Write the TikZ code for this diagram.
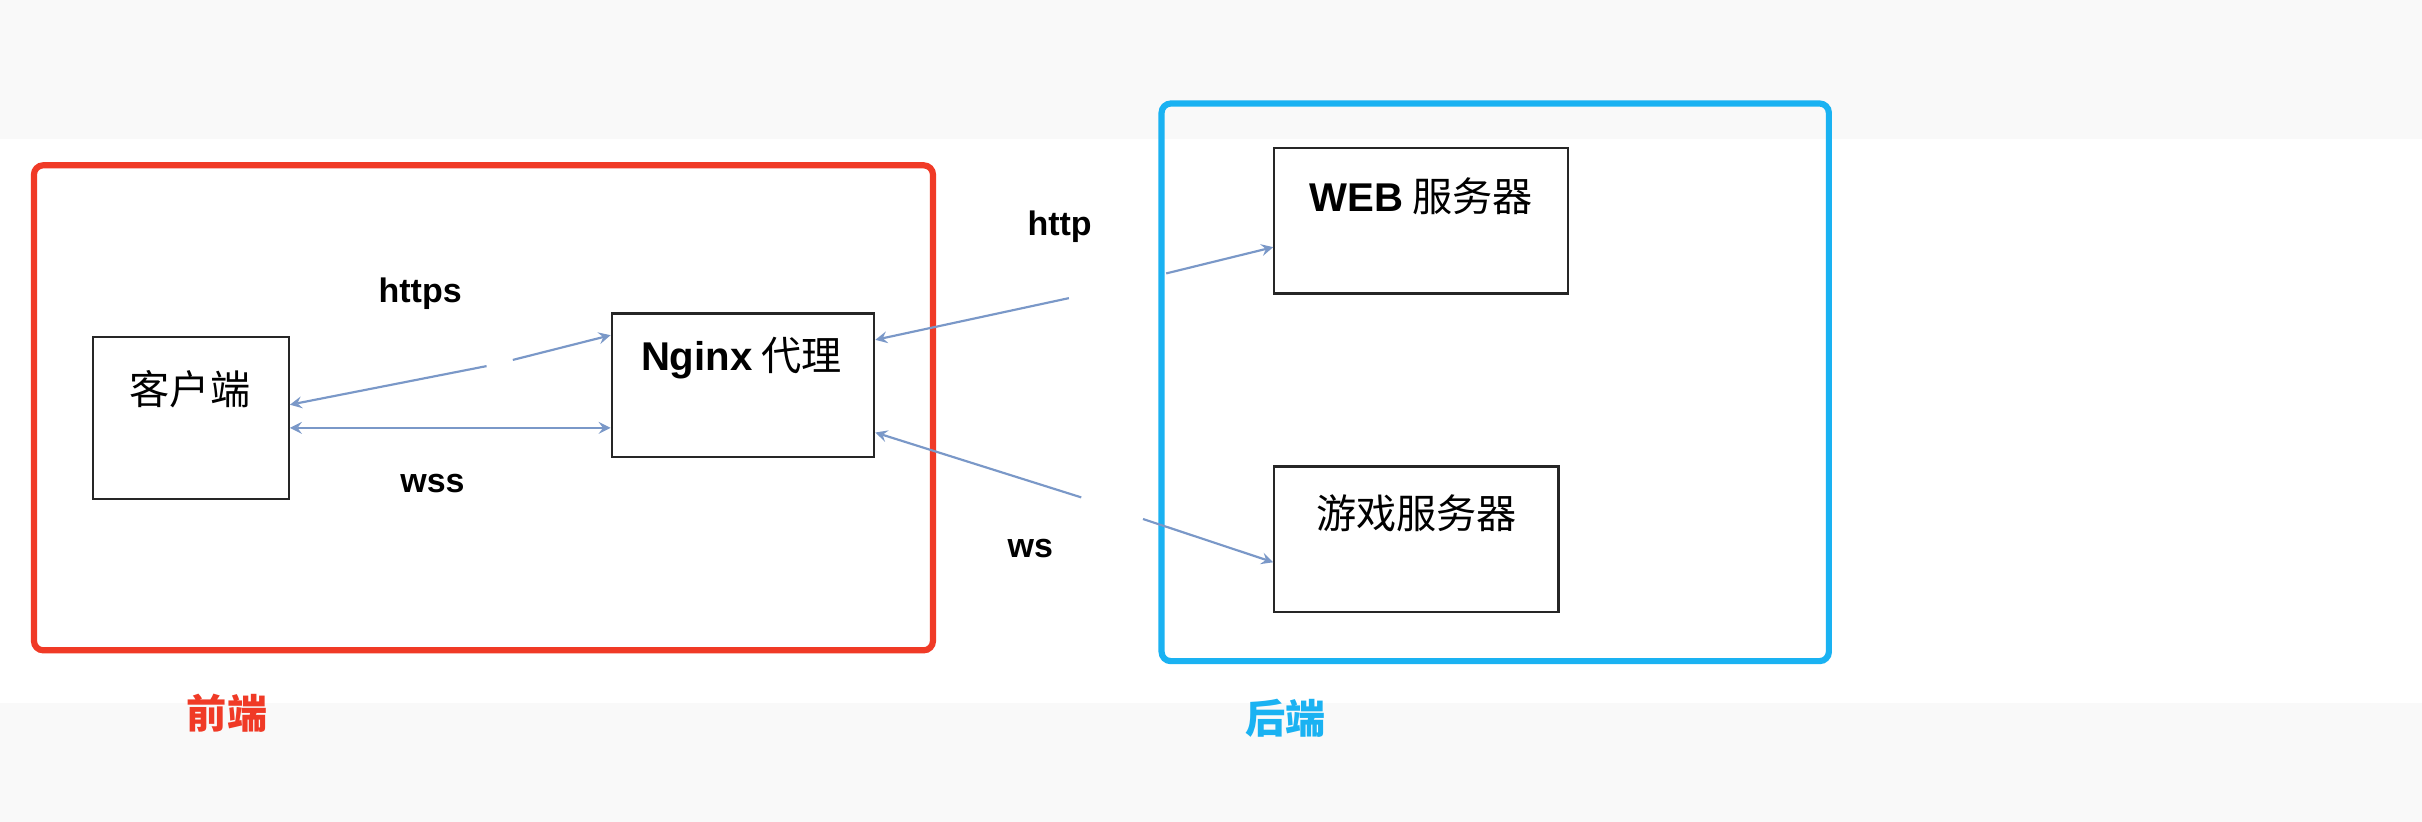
\documentclass[tikz,border=0pt]{standalone}
\usepackage{fontspec}
\setmainfont{Liberation Sans}
\newfontfamily\cjk{Noto Sans CJK SC}
\definecolor{lnblue}{HTML}{7A98C8}
\definecolor{fred}{HTML}{F03A26}
\definecolor{bblue}{HTML}{1AB2F2}
\begin{document}
\begin{tikzpicture}[x=0.5pt,y=-0.5pt,
  box/.style={draw=black!85,line width=0.7pt},
  conn/.style={draw=lnblue,line width=0.7pt,-stealth},
  lbl/.style={font=\bfseries\fontsize{11}{13}\selectfont},
  txt/.style={font=\cjk\fontsize{13}{15}\selectfont}]
\useasboundingbox (0,0) rectangle (1568,532);
\fill[gray!5] (0,0) rectangle (1568,532);
\fill[white] (0,90) rectangle (1568,455);
\draw[fred,line width=2pt,rounded corners=3pt] (22,107) rectangle (604,421);
\draw[bblue,line width=2pt,rounded corners=3pt] (752,67) rectangle (1184,428);
\node[box,minimum width=63.5pt,minimum height=52.5pt] (client) at (123.5,270.5) {};
\node[txt] at (123,252) {客户端};
\node[box,minimum width=85pt,minimum height=46.5pt] (nginx) at (481,249.5) {};
\node[txt] at (480,232) {\textbf{\fontspec{Liberation Sans}Nginx} 代理};
\node[box,minimum width=95pt,minimum height=47pt] (web) at (920,143) {};
\node[txt] at (920,127) {\textbf{\fontspec{Liberation Sans}WEB} 服务器};
\node[box,minimum width=92pt,minimum height=47pt] (game) at (917,349) {};
\node[txt] at (917,332) {游戏服务器};
\coordinate (g1) at (315,237); \coordinate (g2) at (332,233);
\draw[conn,stealth-] (client.east|-0,262) -- (g1);
\draw[conn] (g2) -- (nginx.west|-0,217);
\draw[conn,stealth-stealth] (client.east|-0,277) -- (nginx.west|-0,277);
\coordinate (h1) at (692,193); \coordinate (h2) at (755,177);
\draw[conn,stealth-] (nginx.east|-0,220) -- (h1);
\draw[conn] (h2) -- (web.west|-0,160);
\coordinate (w1) at (700,322); \coordinate (w2) at (740,336);
\draw[conn,stealth-] (nginx.east|-0,280) -- (w1);
\draw[conn] (w2) -- (game.west|-0,364);
\node[lbl] at (272,190) {https};
\node[lbl] at (280,313) {wss};
\node[lbl] at (686,147) {http};
\node[lbl] at (667,355) {ws};
\node[font=\cjk\bfseries\fontsize{13}{15}\selectfont,text=fred] at (147,462) {前端};
\node[font=\cjk\bfseries\fontsize{13}{15}\selectfont,text=bblue] at (832,465) {后端};
\end{tikzpicture}
\end{document}
